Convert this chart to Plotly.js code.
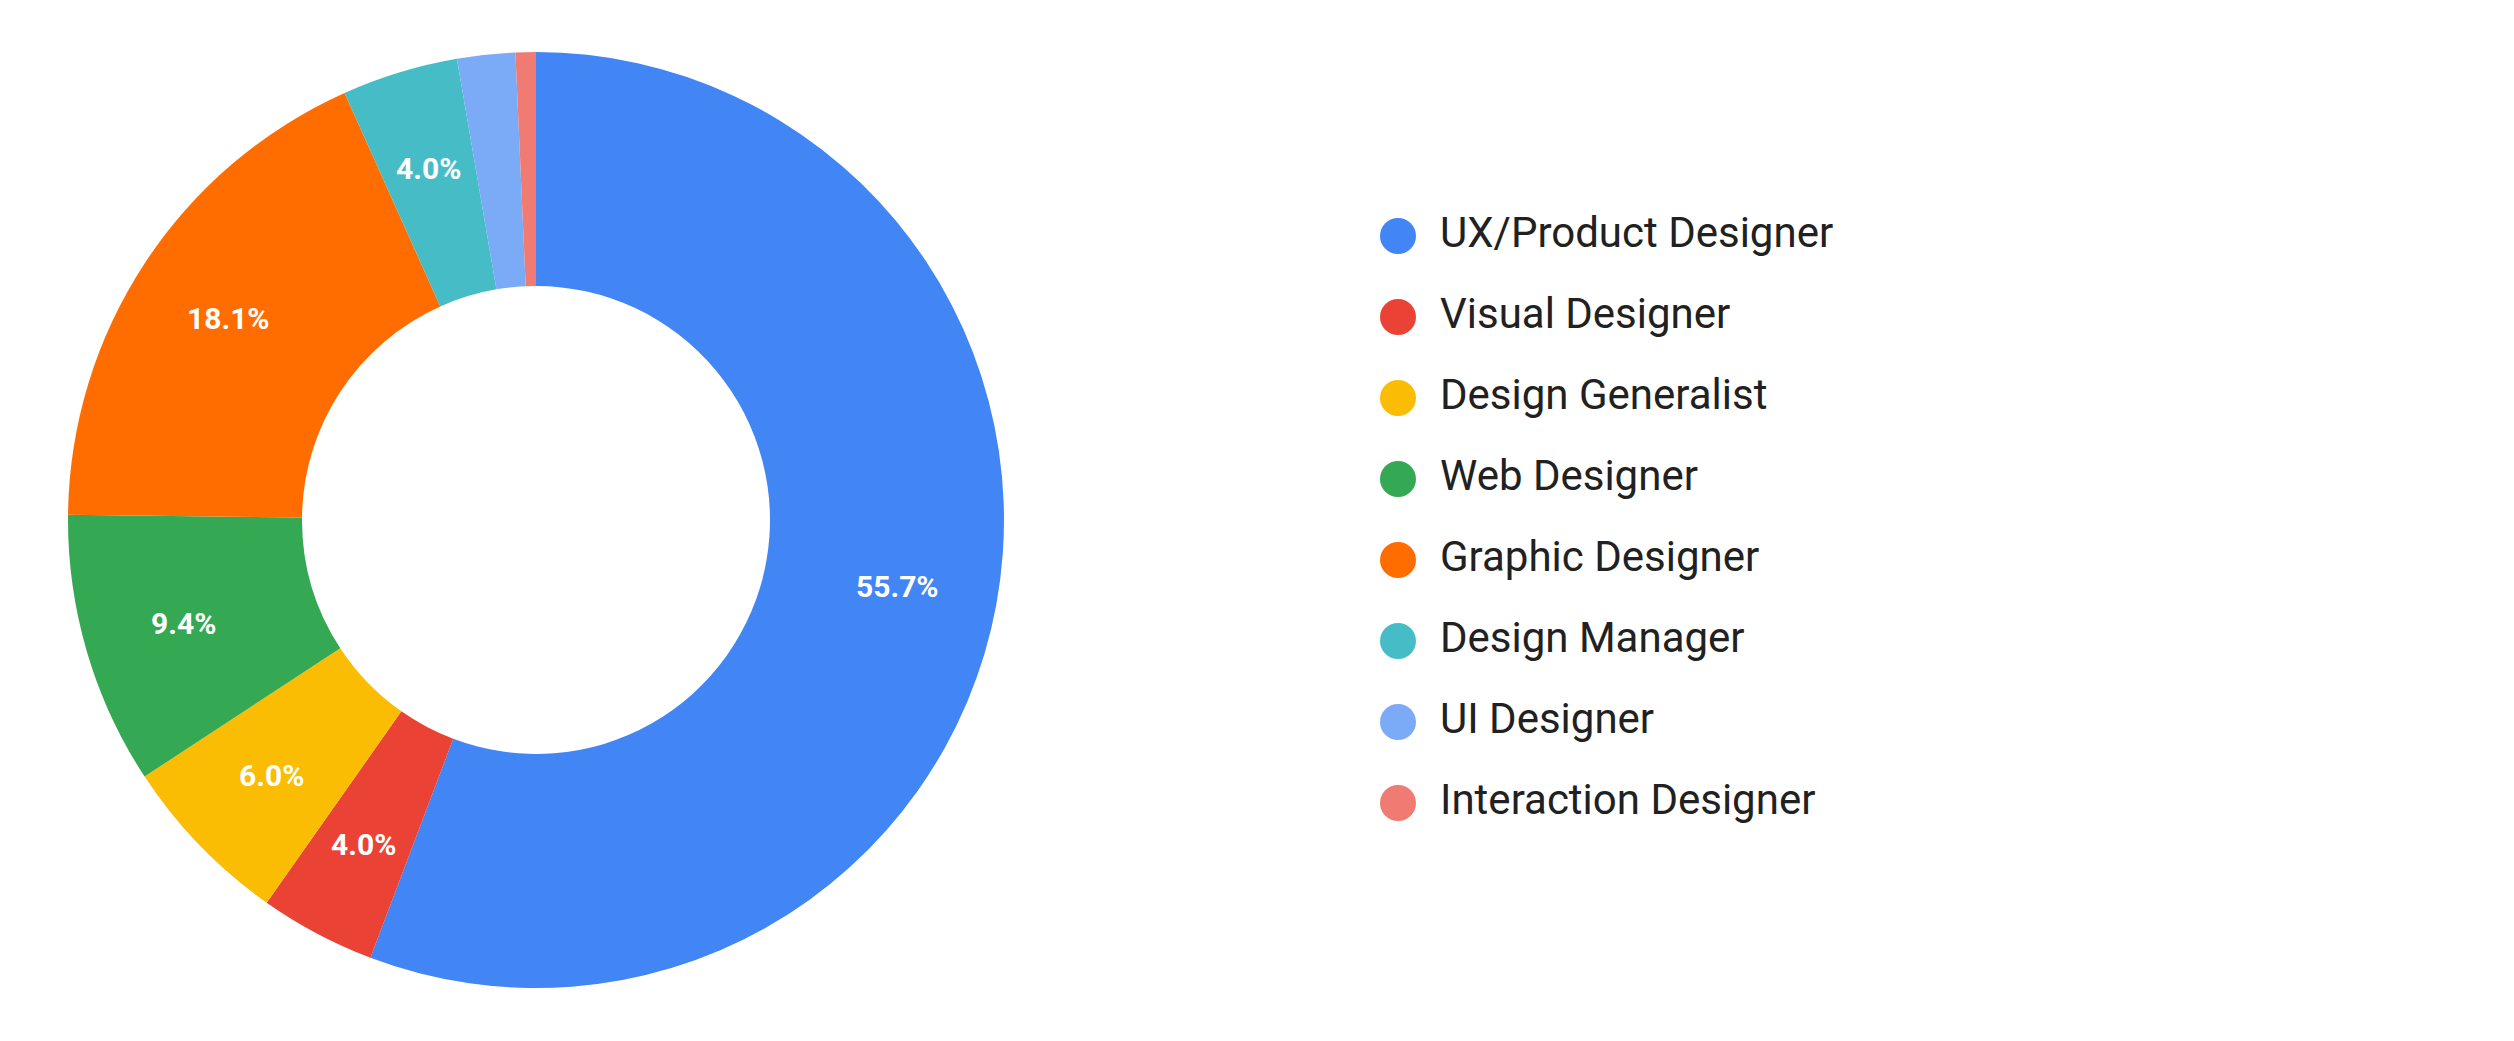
<!DOCTYPE html>
<html>
<head>
<meta charset="utf-8">
<script src="https://cdn.plot.ly/plotly-3.0.1.min.js"></script>
<style>
  html, body { margin: 0; padding: 0; background: #fff; }
  #chart { width: 2514px; height: 1041px; }
</style>
</head>
<body>
<div id="chart"></div>
<script>
// roles and their share of respondents (%)
const roles = [
  'UX/Product Designer',
  'Visual Designer',
  'Design Generalist',
  'Web Designer',
  'Graphic Designer',
  'Design Manager',
  'UI Designer',
  'Interaction Designer'
];
const shares = [55.7, 4.0, 6.0, 9.4, 18.1, 4.0, 2.0, 0.7];
const colors = ['#4285F4', '#EA4335', '#FBBC04', '#34A853', '#FF6D01', '#46BDC6', '#7BAAF7', '#F07B72'];

const W = 2514, H = 1041;
const FONT = 'Roboto, "Open Sans", sans-serif';

// donut geometry (px)
const cx = 536, cy = 520, R = 468, HOLE = 0.5;

const donut = {
  type: 'pie',
  labels: roles,
  values: shares,
  sort: false,
  direction: 'clockwise',
  rotation: 0,
  hole: HOLE,
  marker: { colors: colors, line: { width: 0 } },
  textinfo: 'none',
  showlegend: false,
  hoverinfo: 'label+percent',
  domain: { x: [(cx - R) / W, (cx + R) / W], y: [1 - (cy + R) / H, 1 - (cy - R) / H] }
};

// percentage labels sit on the middle of each slice, like the original
const total = shares.reduce((a, b) => a + b, 0);
const labelR = 0.785 * R;
const pctLabels = [];
let run = 0;
shares.forEach(v => {
  const mid = (run + v / 2) / total * 2 * Math.PI;
  run += v;
  if (v < 3) return;
  pctLabels.push({
    xref: 'paper', yref: 'paper',
    x: (cx + labelR * Math.sin(mid)) / W,
    y: 1 - (cy - labelR * Math.cos(mid)) / H,
    text: v.toFixed(1) + '%',
    showarrow: false,
    xanchor: 'center', yanchor: 'middle',
    font: { family: FONT, size: 30, color: '#ffffff', weight: 700 }
  });
});

// hand built legend: one dot and one label per role
const rows = roles.map((r, i) => i);
const legendDots = {
  type: 'scatter',
  mode: 'markers',
  x: roles.map(() => 0),
  y: rows,
  marker: { size: 36, color: colors, line: { width: 0 } },
  xaxis: 'x2', yaxis: 'y2',
  showlegend: false,
  hoverinfo: 'skip'
};
const legendText = {
  type: 'scatter',
  mode: 'text',
  x: roles.map(() => 42),
  y: rows,
  text: roles,
  textposition: 'middle right',
  textfont: { family: FONT, size: 42, color: '#212121' },
  xaxis: 'x2', yaxis: 'y2',
  showlegend: false,
  hoverinfo: 'skip'
};

const lx0 = 1257, lx1 = 2262, dotX = 1398;
const rowTop = 236, rowStep = 81;

const layout = {
  width: W,
  height: H,
  margin: { l: 0, r: 0, t: 0, b: 0 },
  paper_bgcolor: '#ffffff',
  plot_bgcolor: 'rgba(0,0,0,0)',
  font: { family: FONT, color: '#212121' },
  showlegend: false,
  annotations: pctLabels,
  xaxis2: {
    domain: [lx0 / W, lx1 / W],
    range: [lx0 - dotX, lx1 - dotX],
    visible: false, fixedrange: true, anchor: 'y2'
  },
  yaxis2: {
    domain: [0, 1],
    range: [(H - rowTop) / rowStep, -rowTop / rowStep],
    visible: false, fixedrange: true, anchor: 'x2'
  }
};

Plotly.newPlot('chart', [donut, legendDots, legendText], layout, { displayModeBar: false, staticPlot: true });
</script>
</body>
</html>
